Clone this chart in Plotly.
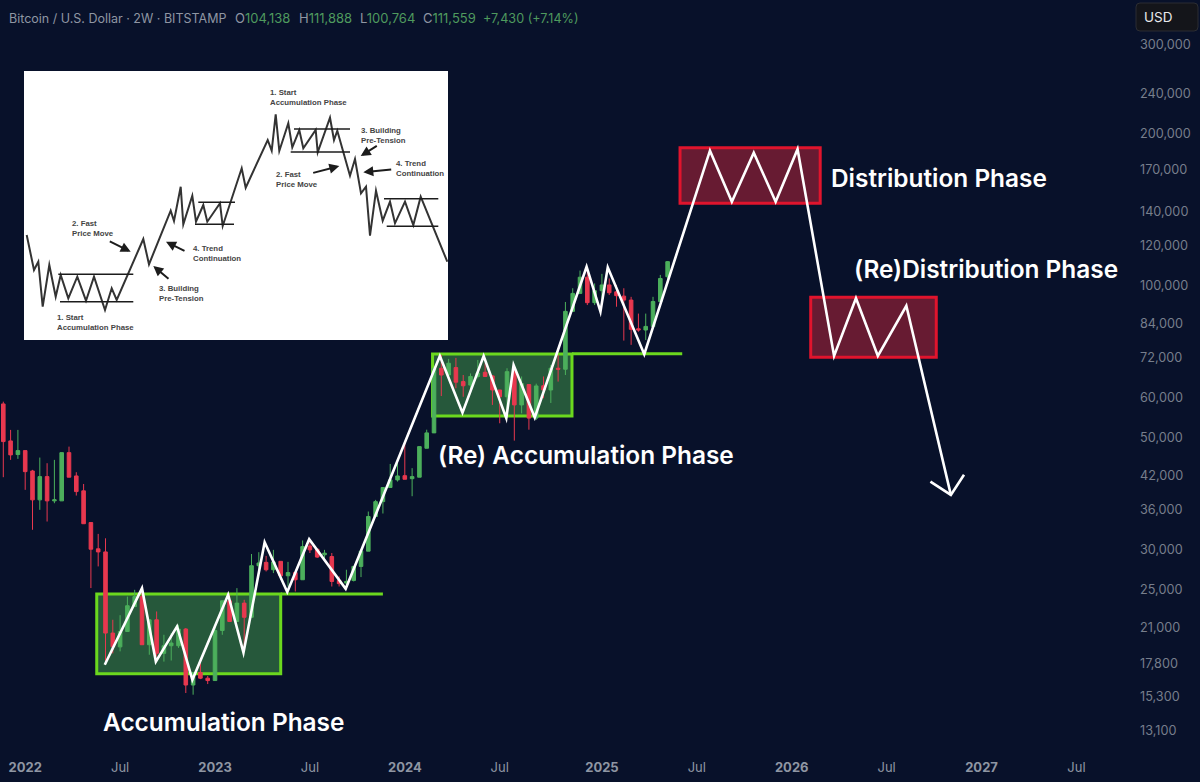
import plotly.graph_objects as go

BG = '#08112a'
GREEN = '#4caf5c'
RED = '#e8384f'
W, H = 1200, 782
M_R, M_B = 61, 32

# candles, one per 2W bar
bar_idx = list(range(92))
bar_open = [58260, 49210, 46240, 47080, 42900, 37600, 41810, 37430, 37430, 46650,
            41940, 39180, 33900, 30070, 29650, 20470, 19220, 20620, 23100, 24180,
            19410, 21750, 18660, 19320, 19320, 20850, 16150, 17100, 16660, 16480,
            20710, 23720, 21580, 23470, 22000, 27840, 28270, 27330, 28400, 26590,
            26980, 26110, 30470, 30020, 29260, 29030, 26030, 25720, 26030, 27750,
            29750, 34850, 37300, 39780, 41190, 41990, 41420, 41700, 47590, 51050,
            68570, 66490, 68780, 64520, 63500, 66040, 67320, 66210, 62100, 60200,
            67510, 58000, 63640, 54610, 63300, 62100, 68570, 68260, 88900, 96500,
            103900, 92500, 97700, 100300, 97200, 95300, 93600, 82100, 81650, 83000,
            93000, 104138]
bar_high = [58870, 51750, 51750, 47080, 43120, 45610, 44450, 45130, 46650, 47950,
            42660, 40430, 33900, 32190, 31550, 21750, 22210, 24180, 24940, 25130,
            21750, 22590, 20310, 20470, 21260, 20950, 17100, 17830, 16830, 21100,
            23720, 24390, 25130, 23830, 29370, 29610, 29120, 29930, 28400, 28330,
            27120, 31240, 31420, 30020, 29930, 29500, 26510, 27330, 27750, 30020,
            35650, 37600, 39780, 44300, 44450, 49060, 43460, 47950, 51800, 68570,
            72870, 71560, 71900, 66490, 66960, 71210, 70150, 66490, 62100, 68570,
            69600, 66040, 63640, 63910, 66040, 69600, 72870, 92800, 98800, 107100,
            108900, 101000, 105500, 103300, 100300, 98800, 95000, 88000, 88000, 95000,
            105000, 111888]
bar_low = [41700, 45130, 45340, 39360, 32800, 35930, 34060, 37030, 37430, 41700,
           38350, 33720, 25140, 27750, 17830, 18660, 18830, 20620, 23100, 19410,
           18540, 18400, 17970, 18060, 19130, 15570, 15450, 16590, 16220, 16480,
           20310, 21580, 21580, 18970, 22000, 27330, 27120, 26920, 26110, 25320,
           24750, 26110, 29500, 28840, 28600, 25320, 25320, 24940, 25910, 26430,
           29750, 34850, 35330, 39780, 40880, 41310, 38230, 41700, 47590, 51050,
           60400, 66100, 62600, 60200, 62100, 65490, 66040, 58000, 53340, 54610,
           49280, 55800, 51800, 54160, 59800, 58520, 64520, 66490, 88900, 96500,
           91500, 91500, 93600, 95800, 90800, 77800, 76300, 81000, 78010, 82800,
           92700, 100764]
bar_close = [49060, 46170, 47080, 42770, 37600, 41810, 37430, 37600, 46650, 41700,
             39050, 33720, 30020, 29650, 20470, 19220, 20620, 23190, 24180, 19410,
             21750, 18660, 19320, 19560, 20850, 16150, 17100, 16660, 16480, 20710,
             23720, 21580, 23470, 22000, 27840, 28190, 27330, 28330, 26590, 26980,
             26110, 30380, 29930, 28960, 29480, 25910, 25650, 25910, 27750, 29750,
             34850, 37300, 39780, 41190, 41940, 41310, 41810, 47950, 51050, 68570,
             66490, 70150, 64340, 63300, 66040, 67100, 66040, 62100, 60200, 67510,
             58000, 63910, 54610, 63250, 62100, 68570, 68260, 88900, 96500, 103900,
             92500, 97700, 100300, 96800, 95500, 93600, 81900, 81650, 83000, 93000,
             103300, 111559]

# hand drawn zigzag over the price
wave_x = [13.9, 19.0, 20.9, 23.8, 25.9, 30.8, 32.9, 35.8, 38.9, 41.9, 46.9, 59.8, 62.9, 65.8,
          68.9, 69.9, 72.8, 79.9, 81.8, 82.8, 87.8, 96.8, 99.8, 102.8, 105.8, 108.8, 113.8,
          116.8, 119.8, 123.7, 129.8]
wave_y = [17710, 25130, 17970, 21100, 16540, 24390, 18720, 31000, 24680, 31420, 25060, 72530,
          56000, 72530, 54610, 69600, 54760, 109000, 88770, 108700, 73100, 185100, 146600,
          183400, 146600, 186400, 72530, 94400, 72530, 91200, 38470]
head_x = [127.0, 129.8, 131.6]
head_y = [40880, 38470, 42170]

# phase boxes
accum_x = [12.8, 38.0]
accum_y = [17000, 24460]
reaccum_x = [58.8, 77.9]
reaccum_y = [55170, 73170]
distr_x = [92.7, 111.9]
distr_y = [145600, 187600]
redistr_x = [110.6, 127.8]
redistr_y = [72100, 94800]
accum_line_x = [38.0, 52.0]
accum_line_y = [24460, 24460]
reaccum_line_x = [77.9, 93.0]
reaccum_line_y = [73250, 73250]

# axes
y_ticks = [300000, 240000, 200000, 170000, 140000, 120000, 100000, 84000, 72000, 60000,
           50000, 42000, 36000, 30000, 25000, 21000, 17800, 15300, 13100]
x_ticks = [3, 16, 29, 42, 55, 68, 82, 95, 108, 121, 134, 147]
x_labels = ['<b>2022</b>', 'Jul', '<b>2023</b>', 'Jul', '<b>2024</b>', 'Jul',
            '<b>2025</b>', 'Jul', '<b>2026</b>', 'Jul', '<b>2027</b>', 'Jul']

# small schematic in the corner, in its own picture coordinates
inset_x = [26.7, 34, 38.3, 42.7, 49.3, 55.7, 60.7, 68.3, 77.3, 86, 94, 105, 111.7, 116.7, 143.3,
           149, 170.7, 174, 180.7, 183.3, 192.3, 196, 203.3, 207.3, 220, 222.7, 241.7, 245.7,
           267.7, 271.7, 275.7, 279.3, 288.3, 292.3, 299.3, 303.3, 315.7, 317.7, 330, 334,
           337.3, 350, 355, 361, 366, 370, 376, 382.7, 390, 395, 405, 413.3, 420.7, 447.3]
inset_y = [235, 270, 261.7, 306.7, 265, 296.7, 275, 298.3, 276.7, 300.7, 276.7, 310, 288.3, 300,
           239, 264.3, 210.7, 221, 186.7, 224.3, 195.7, 221.7, 205, 221.7, 203.3, 226, 168.3,
           187.7, 140, 150.7, 114.3, 151, 123.3, 147.3, 130, 148.3, 130, 152.3, 117.7, 140,
           130.7, 175.7, 159, 193.3, 186.7, 235.7, 190.7, 220.7, 201.7, 223.3, 201.7, 225,
           196.7, 261.7]
inset_rails = [(58.3, 133.3, 274.3), (60, 133.3, 301.7), (198.3, 235, 202.3), (195, 234, 224.3),
               (294, 350, 129), (290.7, 350, 152), (384, 438.3, 198.7), (386.7, 438.3, 226.3)]
inset_notes = [(72, 228, '2. Fast<br>Price Move'), (192.7, 253, '4. Trend<br>Continuation'),
               (159, 293.5, '3. Building<br>Pre-Tension'), (56.7, 322.5, '1. Start<br>Accumulation Phase'),
               (270, 97.5, '1. Start<br>Accumulation Phase'), (361, 135, '3. Building<br>Pre-Tension'),
               (276, 179, '2. Fast<br>Price Move'), (395.7, 168.5, '4. Trend<br>Continuation')]
inset_arrows = [(108.3, 240.7, 130.7, 251.7), (186, 251.7, 166, 241.7), (170, 280, 153.3, 266),
                (311.7, 173.3, 339.3, 166), (378.3, 145, 360.7, 156), (392.7, 169.3, 363.3, 172.3)]


def px(x):
    return x / (W - M_R)


def py(y):
    return 1 - y / (H - M_B)


def box(xs, ys, edge, fill):
    return dict(type='rect', xref='x', yref='y', x0=xs[0], x1=xs[1], y0=ys[0], y1=ys[1],
                line=dict(color=edge, width=3), fillcolor=fill, layer='below')


def seg(xs, ys, color):
    return dict(type='line', xref='x', yref='y', x0=xs[0], x1=xs[1], y0=ys[0], y1=ys[1],
                line=dict(color=color, width=3), layer='below')


fig = go.Figure()
fig.add_trace(go.Candlestick(x=bar_idx, open=bar_open, high=bar_high, low=bar_low, close=bar_close,
                             increasing=dict(line=dict(color=GREEN, width=1), fillcolor=GREEN),
                             decreasing=dict(line=dict(color=RED, width=1), fillcolor=RED)))

LIME = '#6bd81e'
CRIMSON = '#e0142d'
fig.add_trace(go.Scatter(x=wave_x, y=wave_y, mode='lines', line=dict(color='white', width=2.6)))
fig.add_trace(go.Scatter(x=head_x, y=head_y, mode='lines', line=dict(color='white', width=2.6)))

# inset
fig.add_trace(go.Scatter(x=inset_x, y=inset_y, xaxis='x2', yaxis='y2', mode='lines',
                         line=dict(color='#333333', width=2)))
for x0, x1, yy in inset_rails:
    fig.add_trace(go.Scatter(x=[x0, x1], y=[yy, yy], xaxis='x2', yaxis='y2', mode='lines',
                             line=dict(color='#1c1c1c', width=1.5)))

annotations = []
for nx, ny, txt in inset_notes:
    annotations.append(dict(x=nx, y=ny, xref='x2', yref='y2', text='<b>' + txt + '</b>', showarrow=False,
                            xanchor='left', yanchor='middle', align='left', xshift=-2,
                            font=dict(family='Liberation Sans', size=7.8, color='#444444')))
for x0, y0, x1, y1 in inset_arrows:
    annotations.append(dict(x=x1, y=y1, ax=x0, ay=y0, xref='x2', yref='y2', axref='x2', ayref='y2', text='',
                            showarrow=True, arrowhead=2, arrowsize=1, arrowwidth=2, arrowcolor='#1c1c1c'))

# phase labels
phase_labels = [(103, 722, 'Accumulation Phase'), (438, 455, '(Re) Accumulation Phase'),
                (831, 178, 'Distribution Phase'), (854, 269, '(Re)Distribution Phase')]
for lx, ly, txt in phase_labels:
    annotations.append(dict(x=px(lx), y=py(ly), xref='paper', yref='paper', text=txt, showarrow=False,
                            xanchor='left', yanchor='middle', xshift=-2,
                            font=dict(family='Inter', size=24.4, color='white', weight=600)))

# header line
G = '#4f9a5e'
header_parts = [(9, 'Bitcoin / U.S. Dollar · 2W · BITSTAMP', 12.5),
                (235, f'O<span style="color:{G}">104,138</span>', 13),
                (299, f'H<span style="color:{G}">111,888</span>', 13),
                (360, f'L<span style="color:{G}">100,764</span>', 13),
                (423, f'C<span style="color:{G}">111,559</span>', 13),
                (483, f'<span style="color:{G}">+7,430 (+7.14%)</span>', 12.6)]
for hx, txt, sz in header_parts:
    annotations.append(dict(x=px(hx), y=py(18), xref='paper', yref='paper', text=txt, showarrow=False,
                            xanchor='left', yanchor='middle', xshift=-2,
                            font=dict(family='Inter', size=sz, color='#8f96a3')))
annotations.append(dict(x=px(1158), y=py(16.5), xref='paper', yref='paper', text='USD', showarrow=False,
                        xanchor='center', yanchor='middle',
                        font=dict(family='Inter', size=13.5, color='#e8e9ec')))

usd_path = (f'M {px(1140)} {py(3)} L {px(1194)} {py(3)} Q {px(1198)} {py(3)} {px(1198)} {py(7)} '
            f'L {px(1198)} {py(27)} Q {px(1198)} {py(31)} {px(1194)} {py(31)} '
            f'L {px(1140)} {py(31)} Q {px(1136)} {py(31)} {px(1136)} {py(27)} '
            f'L {px(1136)} {py(7)} Q {px(1136)} {py(3)} {px(1140)} {py(3)} Z')
shapes = [
    dict(type='rect', xref='paper', yref='paper', x0=px(24), x1=px(448), y0=py(340), y1=py(71),
         fillcolor='white', line=dict(width=0), layer='below'),
    box(accum_x, accum_y, LIME, 'rgba(76,175,80,0.45)'),
    box(reaccum_x, reaccum_y, LIME, 'rgba(76,175,80,0.45)'),
    box(distr_x, distr_y, CRIMSON, 'rgba(220,40,60,0.45)'),
    box(redistr_x, redistr_y, CRIMSON, 'rgba(220,40,60,0.45)'),
    seg(accum_line_x, accum_line_y, LIME),
    seg(reaccum_line_x, reaccum_line_y, LIME),
    dict(type='path', xref='paper', yref='paper', path=usd_path, fillcolor='#14151a',
         line=dict(color='#2b2d33', width=1), layer='above'),
]

fig.update_layout(
    width=W, height=H, margin=dict(l=0, r=M_R, t=0, b=M_B),
    paper_bgcolor=BG, plot_bgcolor='rgba(0,0,0,0)', showlegend=False,
    font=dict(family='Inter', color='#8f96a3', size=13),
    xaxis=dict(range=[-0.452, 155.57], rangeslider=dict(visible=False), showgrid=False, zeroline=False,
               tickmode='array', tickvals=x_ticks, ticktext=x_labels, ticks='', showline=False,
               ticklabelstandoff=8, tickfont=dict(size=13, color='#8f96a3')),
    yaxis=dict(type='log', range=[4.0793, 5.5662], side='right', showgrid=False, zeroline=False,
               tickmode='array', tickvals=y_ticks, ticktext=[f'{v:,}' for v in y_ticks], ticks='',
               showline=False, tickfont=dict(size=12.7, color='#777e8c')),
    xaxis2=dict(domain=[px(24), px(448)], range=[24, 448], visible=False, anchor='y2'),
    yaxis2=dict(domain=[py(340), py(71)], range=[340, 71], visible=False, anchor='x2'),
    annotations=annotations, shapes=shapes,
)

page_js = ("document.body.style.margin='0';document.body.style.background='" + BG + "';"
           "var s=document.createElement('style');"
           "s.textContent='.scatterlayer .js-line{stroke-linejoin:miter !important;stroke-miterlimit:6}';"
           "document.head.appendChild(s);")
fig.write_html('out.html', config={'displayModeBar': False}, post_script=page_js)
